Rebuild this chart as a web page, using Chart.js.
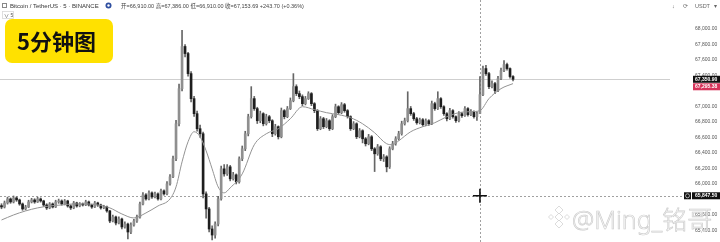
<!DOCTYPE html>
<html>
<head>
<meta charset="utf-8">
<script src="https://cdn.jsdelivr.net/npm/chart.js@4.4.0/dist/chart.umd.min.js"></script>
<style>
  html, body { margin: 0; padding: 0; background: #fff; }
  #wrap { width: 720px; height: 242px; position: relative; }
</style>
</head>
<body>
<div id="wrap"><canvas id="chart" width="720" height="242"></canvas></div>
<script>
// 5 分钟 K 线 (BTC/USDT)
const opens = [
  65720,65703,65755,65807,65768,65820,65794,65742,65678,65703,65768,65794,65768,65807,65781,65729,65691,65742,65703,65768,
  65781,65742,65781,65716,65691,65755,65716,65742,65729,65768,65729,65703,65755,65729,65691,65703,65652,65522,65574,65496,
  65548,65445,65483,65380,65471,65522,65574,65742,65859,65807,65885,65833,65872,65807,65911,65872,66001,66092,66325,66777,
  67230,67774,67683,67424,67101,66907,66713,66648,65872,65678,65419,65341,65483,65807,66195,66130,66221,66066,66118,66027,
  66325,66454,66648,66868,67101,66972,66816,66907,66777,66868,66816,66648,66739,66609,66946,66868,66972,67075,67256,67166,
  67127,67036,67101,67166,67036,66946,66713,66842,66739,66816,66713,66868,66997,66920,67023,66946,66868,66713,66777,66609,
  66687,66583,66519,66609,66454,66389,66480,66325,66350,66221,66454,66519,66583,66648,66777,66816,66972,66907,66842,66790,
  66829,66765,66816,66777,67036,66972,67101,66997,66907,66842,66946,66868,66816,66907,66881,66972,66894,66933,66868,66910,
  67153,67489,67424,67256,67295,67205,67360,67463,67541,67489,67386
];
const highs = [
  65745,65780,65830,65820,65845,65835,65805,65755,65725,65790,65815,65810,65830,65820,65790,65745,65760,65755,65790,65805,
  65795,65800,65790,65730,65775,65765,65760,65755,65790,65780,65740,65775,65765,65740,65725,65715,65660,65600,65585,65575,
  65560,65510,65495,65500,65545,65600,65765,65890,65875,65910,65900,65895,65885,65935,65925,66030,66120,66360,66820,67290,
  67981,67800,67700,67450,67130,66940,66760,66670,65900,65700,65460,65510,65840,66230,66250,66250,66240,66150,66130,66350,
  66490,66680,66900,67256,67130,66990,66940,66920,66900,66885,66830,66770,66750,66980,66960,67000,67110,67424,67280,67200,
  67150,67130,67190,67180,67050,66960,66870,66860,66845,66830,66895,67030,67010,67050,67040,66960,66880,66805,66790,66715,
  66700,66600,66640,66625,66470,66510,66495,66380,66365,66480,66550,66610,66680,66810,66850,67190,67000,66925,66860,66850,
  66845,66840,66830,67070,67055,67190,67115,67010,66920,66975,66960,66880,66935,66925,67000,66985,66960,66945,66930,67386,
  67520,67530,67440,67330,67310,67390,67495,67593,67560,67500,67400
];
const lows = [
  65680,65690,65740,65750,65755,65775,65725,65660,65665,65695,65755,65750,65760,65765,65710,65670,65680,65690,65695,65750,
  65725,65730,65700,65670,65680,65700,65705,65715,65720,65715,65685,65695,65710,65675,65680,65635,65500,65510,65470,65485,
  65420,65430,65290,65360,65455,65505,65560,65730,65790,65795,65815,65820,65790,65795,65855,65860,65985,66080,66300,66750,
  67200,67640,67390,67060,66870,66680,66600,65820,65560,65380,65277,65300,65460,65790,66100,66110,66040,66050,66000,66010,
  66300,66430,66620,66850,66950,66780,66790,66750,66760,66790,66610,66630,66580,66595,66840,66855,66960,67060,67140,67100,
  67010,67020,67090,67010,66920,66690,66700,66715,66725,66690,66700,66855,66900,66905,66925,66850,66690,66700,66585,66595,
  66530,66490,66505,66430,66160,66370,66300,66290,66156,66200,66440,66500,66565,66630,66760,66800,66885,66820,66770,66775,
  66745,66750,66755,66765,66950,66960,66975,66885,66815,66830,66850,66795,66800,66860,66870,66875,66880,66850,66820,66910,
  67140,67400,67230,67240,67166,67190,67345,67450,67470,67365,67330
];
const closes = [
  65703,65755,65807,65768,65820,65794,65742,65678,65703,65768,65794,65768,65807,65781,65729,65691,65742,65703,65768,65781,
  65742,65781,65716,65691,65755,65716,65742,65729,65768,65729,65703,65755,65729,65691,65703,65652,65522,65574,65496,65548,
  65445,65483,65380,65471,65522,65574,65742,65859,65807,65885,65833,65872,65807,65911,65872,66001,66092,66325,66777,67230,
  67774,67683,67424,67101,66907,66713,66648,65872,65678,65419,65341,65483,65807,66195,66130,66221,66066,66118,66027,66325,
  66454,66648,66868,67101,66972,66816,66907,66777,66868,66816,66648,66739,66609,66946,66868,66972,67075,67256,67166,67127,
  67036,67101,67166,67036,66946,66713,66842,66739,66816,66713,66868,66997,66920,67023,66946,66868,66713,66777,66609,66687,
  66583,66519,66609,66454,66389,66480,66325,66350,66221,66454,66519,66583,66648,66777,66816,66972,66907,66842,66790,66829,
  66765,66816,66777,67036,66972,67101,66997,66907,66842,66946,66868,66816,66907,66881,66972,66894,66933,66868,66907,67153,
  67489,67424,67256,67295,67205,67360,67463,67541,67489,67386,67351
];

// 均线 (读图取样点)
const maIndex = [0,4,8,12,16,20,24,28,32,36,40,44,48,52,56,58,60,62,64,66,68,70,72,74,76,80,84,88,92,96,
  100,104,108,112,116,120,124,128,130,132,136,140,144,148,152,156,159,162,166,170];
const maValues = [65535,65600,65652,65691,65716,65729,65742,65742,65729,65691,65613,65561,65626,65716,65807,65962,66285,66545,66674,66609,
  66428,66195,65962,65885,65950,66130,66506,66648,66713,66842,66997,66959,66920,66894,66855,66777,66661,66519,66506,66557,
  66674,66739,66790,66868,66920,66933,66946,67101,67230,67295];

const yTicks = [65400,65600,66000,66200,66400,66600,66800,67000,67400,67600,67800,68000];
const lastPrice = 67350.90;
const maLast = 67295.38;
const crossPrice = 65847.50;
const crossIndex = 159;

const categories = Array.from({length: 222}, (_, i) => {
  const m = 9 * 60 + 5 * i;
  return String(Math.floor(m / 60) % 24).padStart(2, '0') + ':' + String(m % 60).padStart(2, '0');
});

const fmt = v => v.toLocaleString('en-US', {minimumFractionDigits: 2, maximumFractionDigits: 2});
const UI = '"Liberation Sans", "Noto Sans CJK SC", sans-serif';

function label(ctx, y, text, bg, x0) {
  ctx.fillStyle = bg;
  ctx.fillRect(x0, y - 3.5, 720 - x0, 7);
  ctx.fillStyle = '#fff';
  ctx.font = 'bold 5px ' + UI;
  ctx.textBaseline = 'middle';
  ctx.textAlign = 'left';
  ctx.fillText(text, 695, y + 0.3);
}

const overlay = {
  id: 'overlay',
  beforeDatasetsDraw(chart) {
    const ctx = chart.ctx, y = chart.scales.y, x = chart.scales.x, area = chart.chartArea;
    ctx.save();
    // 最新价线
    const py = Math.round(y.getPixelForValue(lastPrice)) + 0.5;
    ctx.strokeStyle = '#cfcfcf';
    ctx.lineWidth = 1;
    ctx.beginPath(); ctx.moveTo(0, py); ctx.lineTo(area.right + 2, py); ctx.stroke();
    // 十字线
    const cy = Math.round(y.getPixelForValue(crossPrice)) + 0.5;
    const cx = Math.round(x.getPixelForValue(crossIndex)) + 0.5;
    ctx.strokeStyle = '#a0a0a0';
    ctx.setLineDash([2, 2]);
    ctx.beginPath(); ctx.moveTo(0, cy); ctx.lineTo(684, cy); ctx.stroke();
    ctx.beginPath(); ctx.moveTo(cx, 0); ctx.lineTo(cx, 242); ctx.stroke();
    ctx.restore();
  },
  afterDraw(chart) {
    const ctx = chart.ctx, y = chart.scales.y, x = chart.scales.x;
    ctx.save();
    // 价格刻度
    ctx.textBaseline = 'middle';
    ctx.textAlign = 'left';
    ctx.fillStyle = '#555';
    ctx.font = '5px ' + UI;
    yTicks.forEach(v => ctx.fillText(fmt(v), 695, y.getPixelForValue(v)));

    // 标题行
    ctx.fillStyle = '#888';
    ctx.fillRect(2, 3, 5, 5);
    ctx.fillStyle = '#fff';
    ctx.fillRect(3, 4, 3, 3);
    ctx.fillStyle = '#333';
    ctx.font = '6px ' + UI;
    ctx.fillText('Bitcoin / TetherUS · 5 · BINANCE', 10, 6);
    ctx.fillStyle = '#2f4fa0';
    ctx.beginPath(); ctx.arc(108.5, 5.5, 3, 0, Math.PI * 2); ctx.fill();
    ctx.fillStyle = '#fff';
    ctx.beginPath(); ctx.arc(108.5, 5.5, 1.2, 0, Math.PI * 2); ctx.fill();
    ctx.fillStyle = '#444';
    ctx.font = '5.5px ' + UI;
    ctx.fillText('开=66,910.00 高=67,386.00 低=66,910.00 收=67,153.69 +243.70 (+0.36%)', 121, 6);
    ctx.strokeStyle = '#d8d8d8';
    ctx.lineWidth = 0.8;
    ctx.strokeRect(2.5, 11.5, 11, 7);
    ctx.fillStyle = '#555';
    ctx.font = '5px ' + UI;
    ctx.fillText('∨ 5', 4, 15.2);

    // 右上角
    ctx.fillStyle = '#666';
    ctx.font = '5.5px ' + UI;
    ctx.fillText('↓', 672, 6);
    ctx.fillText('⟳', 683, 6);
    ctx.fillText('USDT', 695, 6);
    ctx.fillText('▾', 714, 6);

    // 黄色标签
    ctx.fillStyle = '#ffe100';
    ctx.beginPath(); ctx.roundRect(5, 19, 108, 44, 7); ctx.fill();
    ctx.fillStyle = '#111';
    ctx.font = 'bold 22px "Noto Sans CJK SC", sans-serif';
    ctx.fillText('5分钟图', 17, 42);

    // 价格标签
    const ly = y.getPixelForValue(lastPrice);
    let my = y.getPixelForValue(maLast);
    if (my - ly < 7.5) my = ly + 7.5;
    label(ctx, ly, fmt(lastPrice), '#111', 693);
    label(ctx, my, fmt(maLast), '#d6335a', 693);
    const cy = y.getPixelForValue(crossPrice);
    label(ctx, cy, fmt(crossPrice), '#111', 692);
    ctx.fillStyle = '#111';
    ctx.fillRect(684, cy - 3.5, 7, 7);
    ctx.strokeStyle = '#fff';
    ctx.lineWidth = 0.6;
    ctx.beginPath(); ctx.arc(687.5, cy, 2, 0, Math.PI * 2); ctx.stroke();

    // 十字光标
    const cx = x.getPixelForValue(crossIndex);
    ctx.strokeStyle = '#111';
    ctx.lineWidth = 1.6;
    ctx.beginPath();
    ctx.moveTo(cx - 7, cy); ctx.lineTo(cx + 7, cy);
    ctx.moveTo(cx, cy - 7); ctx.lineTo(cx, cy + 7);
    ctx.stroke();

    // 水印
    ctx.strokeStyle = '#cdcdcd';
    ctx.fillStyle = 'rgba(255,255,255,0.7)';
    ctx.lineWidth = 0.7;
    const lx = 559, lyc = 217;
    [[0, 0, 4], [-8, 0, 2.5], [8, 0, 2.5], [0, -7, 4], [0, 7, 4]].forEach(([dx, dy, s]) => {
      ctx.beginPath();
      ctx.moveTo(lx + dx, lyc + dy - s); ctx.lineTo(lx + dx + s, lyc + dy);
      ctx.lineTo(lx + dx, lyc + dy + s); ctx.lineTo(lx + dx - s, lyc + dy);
      ctx.closePath(); ctx.fill(); ctx.stroke();
    });
    ctx.font = '300 25px "Noto Sans", "Noto Sans CJK SC", sans-serif';
    ctx.textBaseline = 'alphabetic';
    ctx.fillText('@Ming_铭哥', 572, 229);
    ctx.strokeText('@Ming_铭哥', 572, 229);
    ctx.restore();
  }
};

new Chart(document.getElementById('chart'), {
  data: {
    labels: categories,
    datasets: [
      {
        type: 'line',
        data: maIndex.map((k, j) => ({x: categories[k], y: maValues[j]})),
        borderColor: '#939393',
        borderWidth: 1,
        pointRadius: 0,
        cubicInterpolationMode: 'monotone',
        order: 0
      },
      {
        type: 'bar',
        data: opens.map((o, i) => [o, closes[i]]),
        backgroundColor: c => closes[c.dataIndex] >= opens[c.dataIndex] ? '#8f8f8f' : '#1e1e1e',
        barThickness: 2,
        minBarLength: 1,
        grouped: false,
        order: 1
      },
      {
        type: 'bar',
        data: lows.map((l, i) => [l, highs[i]]),
        backgroundColor: '#666',
        barThickness: 1,
        grouped: false,
        order: 2
      }
    ]
  },
  options: {
    responsive: false,
    animation: false,
    devicePixelRatio: 1,
    layout: {padding: 0},
    plugins: {legend: {display: false}, tooltip: {enabled: false}},
    scales: {
      x: {type: 'category', display: false, offset: true, grid: {display: false}},
      y: {
        position: 'right',
        min: 65251,
        max: 68374,
        grid: {display: false, drawTicks: false},
        border: {display: false},
        afterFit: ax => { ax.width = 52; },
        ticks: {display: false}
      }
    }
  },
  plugins: [overlay]
});
</script>
</body>
</html>
